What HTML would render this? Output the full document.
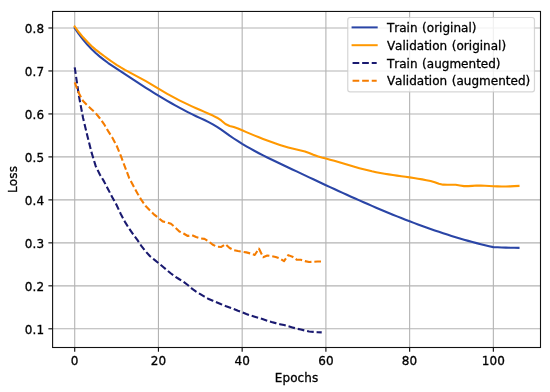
<!DOCTYPE html>
<html><head><meta charset="utf-8"><title>Loss</title>
<style>html,body{margin:0;padding:0;background:#fff}svg{display:block}</style></head>
<body>
<svg width="550" height="392" viewBox="0 0 550 392">
<defs><clipPath id="ax"><rect x="52.6" y="11.45" width="487.90" height="336.05"/></clipPath></defs>
<g>
<rect width="550" height="392" fill="#fff"/>
<g stroke="#b3b3b3" stroke-width="1.10" fill="none">
<line x1="74.71" y1="11.45" x2="74.71" y2="347.5"/>
<line x1="158.44" y1="11.45" x2="158.44" y2="347.5"/>
<line x1="242.17" y1="11.45" x2="242.17" y2="347.5"/>
<line x1="325.90" y1="11.45" x2="325.90" y2="347.5"/>
<line x1="409.63" y1="11.45" x2="409.63" y2="347.5"/>
<line x1="493.36" y1="11.45" x2="493.36" y2="347.5"/>
<line x1="52.6" y1="328.80" x2="540.5" y2="328.80"/>
<line x1="52.6" y1="285.83" x2="540.5" y2="285.83"/>
<line x1="52.6" y1="242.85" x2="540.5" y2="242.85"/>
<line x1="52.6" y1="199.88" x2="540.5" y2="199.88"/>
<line x1="52.6" y1="156.90" x2="540.5" y2="156.90"/>
<line x1="52.6" y1="113.93" x2="540.5" y2="113.93"/>
<line x1="52.6" y1="70.96" x2="540.5" y2="70.96"/>
<line x1="52.6" y1="27.98" x2="540.5" y2="27.98"/>
</g>
<g clip-path="url(#ax)" fill="none" stroke-linejoin="round">
<path d="M74.71 28.10 L78.90 34.21 L83.08 39.68 L87.27 44.59 L91.46 49.01 L95.64 53.00 L99.83 56.62 L104.02 59.93 L108.20 63.02 L112.39 65.93 L116.57 68.73 L120.76 71.49 L124.95 74.24 L129.13 76.99 L133.32 79.72 L137.51 82.43 L141.69 85.13 L145.88 87.79 L150.07 90.43 L154.25 93.03 L158.44 95.60 L162.63 98.12 L166.81 100.59 L171.00 103.01 L175.19 105.37 L179.37 107.68 L183.56 109.92 L187.75 112.09 L191.93 114.18 L196.12 116.20 L200.30 118.14 L204.49 120.05 L208.68 122.11 L212.86 124.39 L217.05 126.89 L221.24 129.66 L225.42 132.64 L229.61 135.64 L233.80 138.50 L237.98 141.23 L242.17 143.84 L246.36 146.32 L250.54 148.70 L254.73 150.99 L258.92 153.21 L263.10 155.35 L267.29 157.44 L271.48 159.48 L275.66 161.49 L279.85 163.48 L284.03 165.46 L288.22 167.45 L292.41 169.43 L296.59 171.41 L300.78 173.39 L304.97 175.37 L309.15 177.34 L313.34 179.31 L317.53 181.27 L321.71 183.23 L325.90 185.18 L330.09 187.12 L334.27 189.05 L338.46 190.97 L342.65 192.88 L346.83 194.78 L351.02 196.67 L355.21 198.55 L359.39 200.41 L363.58 202.25 L367.76 204.08 L371.95 205.89 L376.14 207.69 L380.32 209.46 L384.51 211.22 L388.70 212.95 L392.88 214.67 L397.07 216.36 L401.26 218.03 L405.44 219.67 L409.63 221.29 L413.82 222.89 L418.00 224.45 L422.19 225.99 L426.38 227.51 L430.56 228.99 L434.75 230.44 L438.94 231.86 L443.12 233.25 L447.31 234.61 L451.49 235.93 L455.68 237.22 L459.87 238.47 L464.05 239.69 L468.24 240.87 L472.43 242.01 L476.61 243.12 L480.80 244.18 L484.99 245.20 L489.17 246.18 L493.36 247.12 L497.55 247.30 L501.73 247.45 L505.92 247.58 L510.11 247.68 L514.29 247.77 L518.48 247.84" stroke="#2a45a6" stroke-width="2.10" stroke-linecap="square"/>
<path d="M74.71 26.57 L78.90 32.28 L83.08 37.31 L87.27 41.83 L91.46 45.94 L95.64 49.59 L99.83 52.89 L104.02 56.02 L108.20 59.07 L112.39 62.01 L116.57 64.81 L120.76 67.43 L124.95 69.86 L129.13 72.16 L133.32 74.39 L137.51 76.60 L141.69 78.85 L145.88 81.18 L150.07 83.61 L154.25 86.09 L158.44 88.61 L162.63 91.11 L166.81 93.56 L171.00 95.93 L175.19 98.20 L179.37 100.35 L183.56 102.41 L187.75 104.40 L191.93 106.33 L196.12 108.20 L200.30 110.05 L204.49 111.88 L208.68 113.71 L212.86 115.57 L217.05 117.70 L221.24 120.45 L225.42 124.00 L229.61 125.93 L233.80 126.99 L237.98 128.47 L242.17 130.27 L246.36 132.10 L250.54 133.89 L254.73 135.64 L258.92 137.33 L263.10 138.97 L267.29 140.55 L271.48 142.07 L275.66 143.51 L279.85 144.89 L284.03 146.18 L288.22 147.39 L292.41 148.51 L296.59 149.54 L300.78 150.48 L304.97 151.42 L309.15 152.93 L313.34 154.71 L317.53 156.26 L321.71 157.47 L325.90 158.54 L330.09 159.65 L334.27 160.82 L338.46 162.03 L342.65 163.26 L346.83 164.51 L351.02 165.75 L355.21 166.97 L359.39 168.15 L363.58 169.28 L367.76 170.34 L371.95 171.32 L376.14 172.20 L380.32 173.00 L384.51 173.73 L388.70 174.40 L392.88 175.03 L397.07 175.64 L401.26 176.23 L405.44 176.81 L409.63 177.41 L413.82 178.03 L418.00 178.68 L422.19 179.39 L426.38 180.16 L430.56 181.01 L434.75 182.22 L438.94 183.81 L443.12 184.67 L447.31 184.79 L451.49 184.71 L455.68 184.71 L459.87 185.44 L464.05 186.13 L468.24 186.13 L472.43 185.83 L476.61 185.52 L480.80 185.61 L484.99 185.78 L489.17 186.04 L493.36 186.30 L497.55 186.38 L501.73 186.47 L505.92 186.47 L510.11 186.34 L514.29 186.13 L518.48 185.95" stroke="#ff9800" stroke-width="2.10" stroke-linecap="square"/>
<path d="M74.71 67.30 L78.90 95.88 L83.08 118.01 L87.27 135.42 L91.46 152.18 L95.64 165.93 L99.83 174.52 L104.02 181.40 L108.20 189.44 L112.39 197.43 L116.57 205.03 L120.76 213.97 L124.95 221.84 L129.13 228.54 L133.32 234.56 L137.51 240.19 L141.69 246.46 L145.88 251.66 L150.07 256.26 L154.25 259.61 L158.44 263.01 L162.63 266.49 L166.81 270.01 L171.00 273.49 L175.19 276.54 L179.37 279.25 L183.56 281.79 L187.75 284.97 L191.93 288.66 L196.12 291.58 L200.30 294.12 L204.49 296.66 L208.68 299.06 L212.86 300.70 L217.05 302.50 L221.24 304.30 L225.42 305.94 L229.61 307.44 L233.80 309.07 L237.98 310.71 L242.17 312.21 L246.36 313.93 L250.54 315.48 L254.73 316.72 L258.92 317.97 L263.10 319.30 L267.29 320.72 L271.48 322.01 L275.66 323.13 L279.85 324.16 L284.03 325.10 L288.22 326.26 L292.41 327.42 L296.59 328.59 L300.78 329.53 L304.97 330.56 L309.15 331.46 L313.34 331.85 L317.53 332.19 L321.71 332.41" stroke="#1a1a70" stroke-width="2.10" stroke-dasharray="6.69 2.89"/>
<path d="M74.71 82.26 L78.90 93.30 L83.08 101.04 L87.27 105.34 L91.46 109.20 L95.64 113.07 L99.83 118.23 L104.02 124.03 L108.20 131.12 L112.39 137.78 L116.57 145.52 L120.76 155.74 L124.95 166.79 L129.13 177.96 L133.32 185.78 L137.51 193.43 L141.69 200.48 L145.88 206.32 L150.07 210.62 L154.25 214.70 L158.44 217.93 L162.63 221.37 L166.81 222.31 L171.00 223.73 L175.19 227.38 L179.37 231.46 L183.56 233.48 L187.75 235.98 L191.93 235.12 L196.12 237.01 L200.30 238.34 L204.49 238.86 L208.68 241.35 L212.86 244.79 L217.05 246.72 L221.24 246.93 L225.42 244.14 L229.61 248.01 L233.80 250.16 L237.98 251.02 L242.17 251.70 L246.36 252.39 L250.54 253.47 L254.73 254.97 L258.92 248.57 L263.10 257.21 L267.29 255.49 L271.48 256.09 L275.66 257.03 L279.85 258.54 L284.03 261.20 L288.22 255.14 L292.41 256.69 L296.59 259.61 L300.78 259.78 L304.97 261.12 L309.15 261.93 L313.34 261.80 L317.53 261.55 L321.71 261.42" stroke="#f57c00" stroke-width="2.10" stroke-dasharray="6.69 2.89"/>
</g>
<g stroke="#111" stroke-width="1.15">
<line x1="74.71" y1="347.5" x2="74.71" y2="351.72"/>
<line x1="158.44" y1="347.5" x2="158.44" y2="351.72"/>
<line x1="242.17" y1="347.5" x2="242.17" y2="351.72"/>
<line x1="325.90" y1="347.5" x2="325.90" y2="351.72"/>
<line x1="409.63" y1="347.5" x2="409.63" y2="351.72"/>
<line x1="493.36" y1="347.5" x2="493.36" y2="351.72"/>
<line x1="48.38" y1="328.80" x2="52.6" y2="328.80"/>
<line x1="48.38" y1="285.83" x2="52.6" y2="285.83"/>
<line x1="48.38" y1="242.85" x2="52.6" y2="242.85"/>
<line x1="48.38" y1="199.88" x2="52.6" y2="199.88"/>
<line x1="48.38" y1="156.90" x2="52.6" y2="156.90"/>
<line x1="48.38" y1="113.93" x2="52.6" y2="113.93"/>
<line x1="48.38" y1="70.96" x2="52.6" y2="70.96"/>
<line x1="48.38" y1="27.98" x2="52.6" y2="27.98"/>
</g>
<rect x="52.6" y="11.45" width="487.90" height="336.05" fill="none" stroke="#111" stroke-width="1.1"/>
<g font-family="DejaVu Sans, Liberation Sans, sans-serif" style="font-kerning:none" font-size="12.0px" fill="#000" stroke="#000" stroke-width="0.3" letter-spacing="0.12">
<text x="74.71" y="365.36" text-anchor="middle">0</text>
<text x="158.44" y="365.36" text-anchor="middle">20</text>
<text x="242.17" y="365.36" text-anchor="middle">40</text>
<text x="325.90" y="365.36" text-anchor="middle">60</text>
<text x="409.63" y="365.36" text-anchor="middle">80</text>
<text x="493.36" y="365.36" text-anchor="middle">100</text>
<text x="44.16" y="333.76" text-anchor="end">0.1</text>
<text x="44.16" y="290.79" text-anchor="end">0.2</text>
<text x="44.16" y="247.81" text-anchor="end">0.3</text>
<text x="44.16" y="204.84" text-anchor="end">0.4</text>
<text x="44.16" y="161.86" text-anchor="end">0.5</text>
<text x="44.16" y="118.89" text-anchor="end">0.6</text>
<text x="44.16" y="75.92" text-anchor="end">0.7</text>
<text x="44.16" y="32.94" text-anchor="end">0.8</text>
<text x="296.55" y="381.8" text-anchor="middle">Epochs</text>
<text transform="translate(17.0 179.47) rotate(-90)" text-anchor="middle">Loss</text>
</g>
<rect x="347.75" y="17.48" width="186.72" height="74.42" rx="2.4" ry="2.4" fill="#fff" fill-opacity="0.8" stroke="#ccc" stroke-opacity="0.8" stroke-width="1.21"/>
<g font-family="DejaVu Sans, Liberation Sans, sans-serif" style="font-kerning:none" font-size="12.0px" fill="#000" stroke="#000" stroke-width="0.3" letter-spacing="0.01" word-spacing="0.8">
<line x1="352.57" y1="27.4" x2="376.69" y2="27.4" stroke="#2a45a6" stroke-width="2.00" stroke-linecap="square"/>
<text x="386.90" y="31.90">Train (original)</text>
<line x1="352.57" y1="45.2" x2="376.69" y2="45.2" stroke="#ff9800" stroke-width="2.00" stroke-linecap="square"/>
<text x="386.90" y="49.70">Validation (original)</text>
<line x1="352.57" y1="63.0" x2="376.69" y2="63.0" stroke="#1a1a70" stroke-width="2.00" stroke-dasharray="6.69 2.89"/>
<text x="386.90" y="67.50">Train (augmented)</text>
<line x1="352.57" y1="80.8" x2="376.69" y2="80.8" stroke="#f57c00" stroke-width="2.00" stroke-dasharray="6.69 2.89"/>
<text x="386.90" y="85.30">Validation (augmented)</text>
</g>
</g>
</svg>
</body></html>
